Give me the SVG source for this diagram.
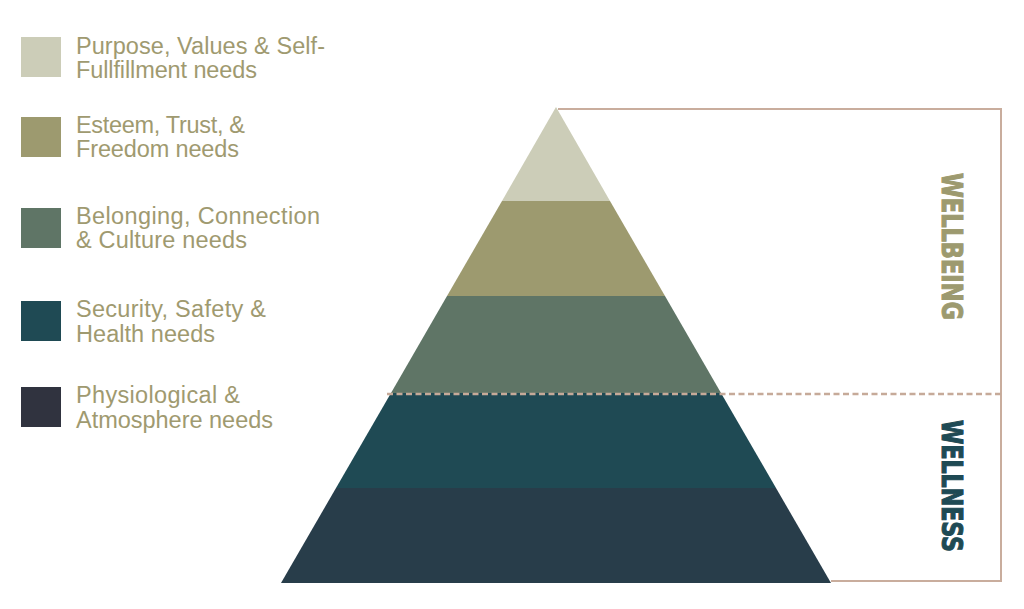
<svg xmlns="http://www.w3.org/2000/svg" width="1024" height="609" viewBox="0 0 1024 609">
<style>
.lg{font-family:"Liberation Sans","DejaVu Sans",sans-serif;font-size:23.5px;fill:#9f9a70;}
.side{font-family:"DejaVu Sans Condensed","Liberation Sans Narrow","Liberation Sans",sans-serif;font-size:28px;font-weight:bold;stroke-width:1;}
.br{fill:none;stroke:#c9ad9d;stroke-width:2;}
</style>
<rect width="1024" height="609" fill="#ffffff"/>
<g id="legend-purpose">
<rect x="21" y="37" width="40" height="40" fill="#cccdb8"/>
<text class="lg" x="76" y="54" textLength="249">Purpose, Values &amp; Self-</text>
<text class="lg" x="76" y="78" textLength="181">Fullfillment needs</text>
</g>
<g id="legend-esteem">
<rect x="21" y="117" width="40" height="40" fill="#9d9a6f"/>
<text class="lg" x="76" y="133" textLength="169">Esteem, Trust, &amp;</text>
<text class="lg" x="76" y="157" textLength="163">Freedom needs</text>
</g>
<g id="legend-belonging">
<rect x="21" y="208" width="40" height="40" fill="#5f7566"/>
<text class="lg" x="76" y="224" textLength="244">Belonging, Connection</text>
<text class="lg" x="76" y="248" textLength="171">&amp; Culture needs</text>
</g>
<g id="legend-security">
<rect x="21" y="301" width="40" height="40" fill="#1f4a54"/>
<text class="lg" x="76" y="317" textLength="190">Security, Safety &amp;</text>
<text class="lg" x="76" y="342" textLength="139">Health needs</text>
</g>
<g id="legend-physiological">
<rect x="21" y="387" width="40" height="40" fill="#30333f"/>
<text class="lg" x="76" y="403" textLength="164">Physiological &amp;</text>
<text class="lg" x="76" y="428" textLength="197">Atmosphere needs</text>
</g>
<g id="pyramid">
<polygon id="level-purpose" points="556,107 610,201 502,201" fill="#cccdb8"/>
<polygon id="level-esteem" points="502,201 610,201 665,296 447,296" fill="#9d9a6f"/>
<polygon id="level-belonging" points="447,296 665,296 721,393 391,393" fill="#5f7566"/>
<polygon id="level-security" points="391,393 721,393 776,488 336,488" fill="#1f4a54"/>
<polygon id="level-physiological" points="336,488 776,488 831,583 281,583" fill="#283d4a"/>
</g>
<g id="connectors">
<polyline class="br" points="558,109 1001,109 1001,581 831,581"/>
<line x1="387" y1="394" x2="1001" y2="394" stroke="#c6aa99" stroke-width="2.5" stroke-dasharray="6,3.5"/>
</g>
<g id="label-wellbeing">
<text class="side" fill="#9d9a6f" stroke="#9d9a6f" transform="translate(942,173) rotate(90)" textLength="147" lengthAdjust="spacingAndGlyphs">WELLBEING</text>
</g>
<g id="label-wellness">
<text class="side" fill="#1f4a54" stroke="#1f4a54" transform="translate(942,420) rotate(90)" textLength="132" lengthAdjust="spacingAndGlyphs">WELLNESS</text>
</g>
</svg>
